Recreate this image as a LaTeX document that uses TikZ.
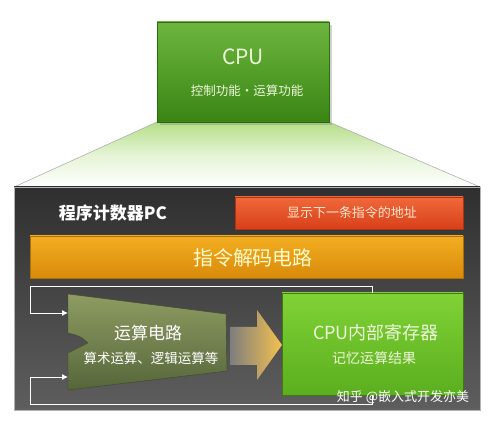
\documentclass[tikz,border=0pt]{standalone}
\usepackage{fontspec}
\setmainfont{Noto Sans CJK SC}
\usetikzlibrary{arrows.meta,shadows}

\definecolor{cpugreen}{HTML}{5CAE2A}
\definecolor{cpudark}{HTML}{3A8414}
\definecolor{funnelTop}{HTML}{B4DE86}
\definecolor{panelTop}{HTML}{2F2F2F}
\definecolor{panelBot}{HTML}{5E5E5E}
\definecolor{redTop}{HTML}{F0683A}
\definecolor{redBot}{HTML}{D8401A}
\definecolor{goldTop}{HTML}{F3AE22}
\definecolor{goldBot}{HTML}{D98A0A}
\definecolor{aluTop}{HTML}{8E9C62}
\definecolor{aluBot}{HTML}{56663A}
\definecolor{regTop}{HTML}{80D236}
\definecolor{regBot}{HTML}{5BAE1E}
\definecolor{arrowGold}{HTML}{F4C14E}
\definecolor{paleText}{HTML}{ECF6D8}

\tikzset{
  fsize/.style={font=\fontsize{#1}{#1}\selectfont},
  lbl/.style={inner sep=0pt, text=white},
  panelbox/.style={minimum width=#1, inner sep=0pt, outer sep=0pt},
  fb/.style={draw=white, line width=0.9pt, -{Latex[length=6pt,width=6pt]}}
}

\begin{document}
\begin{tikzpicture}[x=1pt,y=-1pt]
  \useasboundingbox[fill=white] (0,0) rectangle (491,422);

  % funnel from the CPU down to the panel
  \shade[top color=funnelTop, bottom color=white, middle color=funnelTop!35!white]
    (157,122) -- (329,122) -- (480,187) -- (14,187) -- cycle;
  \draw[gray!70, line width=0.5pt] (157,122) -- (14,187);
  \draw[gray!70, line width=0.5pt] (329,122) -- (480,187);

  % CPU
  \node[panelbox=172pt, minimum height=100pt, top color=cpugreen!90!white, bottom color=cpudark,
        draw=cpudark!80!black, drop shadow={opacity=0.35}] (cpu) at (243,72) {};
  \node[lbl, fsize=21, text=paleText] (cputitle) at (243,57) {CPU};
  \node[lbl, fsize=12.5, text=paleText] (cpusub) at (247,91) {控制功能·运算功能};

  % dark panel
  \shade[top color=panelTop, bottom color=panelBot, draw=gray!60]
    (14,187) rectangle (480,410);

  \node[lbl, font=\fontsize{17}{17}\selectfont\bfseries] (pc) at (113,213) {程序计数器PC};
  \node[panelbox=228pt, minimum height=32pt, top color=redTop, bottom color=redBot,
        draw=redBot!80!black] (next) at (349,213) {};
  \node[lbl, fsize=13, text=orange!20!white] (nexttxt) at (352,213) {显示下一条指令的地址};

  \node[panelbox=433pt, minimum height=42pt, top color=goldTop, bottom color=goldBot,
        draw=goldBot!80!black] (dec) at (246.5,257) {};
  \node[lbl, fsize=20, text=yellow!20!white] (dectxt) at (253,258) {指令解码电路};

  % arithmetic circuit
  \shade[top color=aluTop, bottom color=aluBot, draw=aluBot!70!black]
    (68,294) -- (226,314) -- (227,371) -- (68,390) -- (68,353)
    -- (88,343) .. controls (80,336) .. (68,333) -- cycle;
  \node[lbl, fsize=17] (alu) at (148,333) {运算电路};
  \node[lbl, fsize=13.5] (alusub) at (151,358) {算术运算、逻辑运算等};
  \coordinate (aluina) at (68,313);
  \coordinate (aluinb) at (68,377);

  % big arrow
  \shade[left color=panelBot!80!white, right color=arrowGold]
    (230,327) -- (257,327) -- (257,310) -- (282,345) -- (257,380)
    -- (257,365) -- (230,365) -- cycle;

  % registers
  \node[panelbox=181pt, minimum height=102pt, top color=regTop, bottom color=regBot,
        draw=regBot!70!black] (reg) at (372.5,344) {};
  \node[lbl, fsize=18, text=paleText] (regtxt) at (376,333) {CPU内部寄存器};
  \node[lbl, fsize=14, text=paleText] (regsub) at (374,358) {记忆运算结果};

  % feedback lines
  \coordinate (loopa) at (30,286);
  \coordinate (loopb) at (30,404);
  \draw[fb] (reg.north) |- (loopa) |- (aluina);
  \draw[fb] (reg.south) |- (loopb) |- (aluinb);

  \node[lbl, fsize=13] (mark) at (403,397) {知乎 @嵌入式开发亦美};
\end{tikzpicture}
\end{document}
